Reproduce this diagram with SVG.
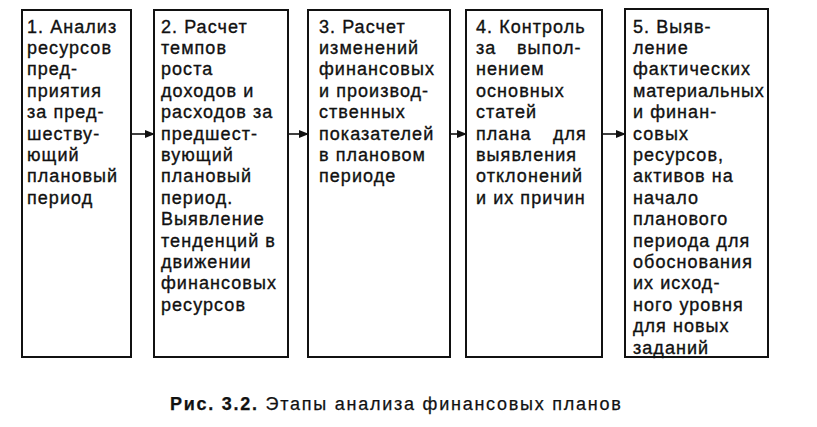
<svg xmlns="http://www.w3.org/2000/svg" width="817" height="427" viewBox="0 0 817 427">
<style>
.box{fill:#fff;stroke:#111;stroke-width:2}
.t{font-family:"Liberation Sans",Arial,sans-serif;font-size:18px;letter-spacing:1.05px;fill:#111;stroke:#111;stroke-width:0.35}
.conn{stroke:#111;stroke-width:1.6;fill:none}
.cap{font-family:"Liberation Sans",Arial,sans-serif;font-size:18px;letter-spacing:1.75px;fill:#111;stroke:#111;stroke-width:0.25}
</style>
<defs>
<marker id="ah" markerWidth="10" markerHeight="8" refX="9" refY="4" orient="auto" markerUnits="userSpaceOnUse">
<path d="M0,0 L10,4 L0,8 z" fill="#111"/>
</marker>
</defs>
<rect width="817" height="427" fill="#fff"/>
<g id="node1">
<rect class="box" x="22" y="10" width="109" height="347"/>
<text class="t">
<tspan x="27" y="32.5">1. Анализ</tspan>
<tspan x="27" y="53.9">ресурсов</tspan>
<tspan x="27" y="75.3">пред-</tspan>
<tspan x="27" y="96.7">приятия</tspan>
<tspan x="27" y="118.1">за пред-</tspan>
<tspan x="27" y="139.5">шеству-</tspan>
<tspan x="27" y="160.9">ющий</tspan>
<tspan x="27" y="182.3">плановый</tspan>
<tspan x="27" y="203.7">период</tspan>
</text>
</g>
<g id="node2">
<rect class="box" x="154" y="10" width="134" height="347"/>
<text class="t">
<tspan x="161" y="32.5">2. Расчет</tspan>
<tspan x="161" y="53.9">темпов</tspan>
<tspan x="161" y="75.3">роста</tspan>
<tspan x="161" y="96.7">доходов и</tspan>
<tspan x="161" y="118.1">расходов за</tspan>
<tspan x="161" y="139.5">предшест-</tspan>
<tspan x="161" y="160.9">вующий</tspan>
<tspan x="161" y="182.3">плановый</tspan>
<tspan x="161" y="203.7">период.</tspan>
<tspan x="161" y="225.1">Выявление</tspan>
<tspan x="161" y="246.5">тенденций в</tspan>
<tspan x="161" y="267.9">движении</tspan>
<tspan x="161" y="289.3">финансовых</tspan>
<tspan x="161" y="310.7">ресурсов</tspan>
</text>
</g>
<g id="node3">
<rect class="box" x="308" y="10" width="142" height="347"/>
<text class="t">
<tspan x="319" y="32.5">3. Расчет</tspan>
<tspan x="319" y="53.9">изменений</tspan>
<tspan x="319" y="75.3">финансовых</tspan>
<tspan x="319" y="96.7">и производ-</tspan>
<tspan x="319" y="118.1">ственных</tspan>
<tspan x="319" y="139.5">показателей</tspan>
<tspan x="319" y="160.9">в плановом</tspan>
<tspan x="319" y="182.3">периоде</tspan>
</text>
</g>
<g id="node4">
<rect class="box" x="466" y="10" width="136" height="347"/>
<text class="t">
<tspan x="476" y="32.5">4. Контроль</tspan>
<tspan x="476" y="53.9">за</tspan><tspan x="517" y="53.9">выпол-</tspan>
<tspan x="476" y="75.3">нением</tspan>
<tspan x="476" y="96.7">основных</tspan>
<tspan x="476" y="118.1">статей</tspan>
<tspan x="476" y="139.5">плана</tspan><tspan x="553" y="139.5">для</tspan>
<tspan x="476" y="160.9">выявления</tspan>
<tspan x="476" y="182.3">отклонений</tspan>
<tspan x="476" y="203.7">и их причин</tspan>
</text>
</g>
<g id="node5">
<rect class="box" x="625" y="9" width="143" height="348"/>
<text class="t">
<tspan x="633" y="32.5">5. Выяв-</tspan>
<tspan x="633" y="53.9">ление</tspan>
<tspan x="633" y="75.3">фактических</tspan>
<tspan x="633" y="96.7" letter-spacing="0.8">материальных</tspan>
<tspan x="633" y="118.1">и финан-</tspan>
<tspan x="633" y="139.5">совых</tspan>
<tspan x="633" y="160.9">ресурсов,</tspan>
<tspan x="633" y="182.3">активов на</tspan>
<tspan x="633" y="203.7">начало</tspan>
<tspan x="633" y="225.1">планового</tspan>
<tspan x="633" y="246.5">периода для</tspan>
<tspan x="633" y="267.9">обоснования</tspan>
<tspan x="633" y="289.3">их исход-</tspan>
<tspan x="633" y="310.7">ного уровня</tspan>
<tspan x="633" y="332.1">для новых</tspan>
<tspan x="633" y="353.5">заданий</tspan>
</text>
</g>
<g id="connectors">
<line class="conn" x1="131" y1="134" x2="154" y2="134" marker-end="url(#ah)"/>
<line class="conn" x1="288" y1="134" x2="308" y2="134" marker-end="url(#ah)"/>
<line class="conn" x1="450" y1="134" x2="466" y2="134" marker-end="url(#ah)"/>
<line class="conn" x1="602" y1="134" x2="625" y2="134" marker-end="url(#ah)"/>
</g>
<text class="cap" x="170" y="410"><tspan font-weight="bold">Рис. 3.2.</tspan> Этапы анализа финансовых планов</text>
</svg>
